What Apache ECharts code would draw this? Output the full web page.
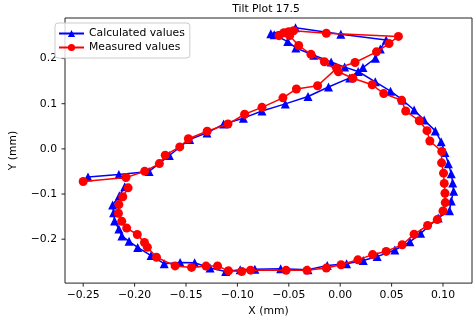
<!DOCTYPE html>
<html>
<head>
<meta charset="utf-8">
<script src="https://cdn.jsdelivr.net/npm/echarts@6/dist/echarts.min.js"></script>
<style>html,body{margin:0;padding:0;background:#fff}#c{width:474px;height:322px}</style>
</head>
<body>
<div id="c"></div>
<script>
const calcX = [-0.2096,-0.2148,-0.2214,-0.2204,-0.2195,-0.2153,-0.2124,-0.2054,-0.1970,-0.1840,-0.1712,-0.1557,-0.1416,-0.1266,-0.1114,-0.0973,-0.0830,-0.0579,-0.0313,-0.0126,0.0062,0.0224,0.0359,0.0531,0.0678,0.0782,0.0953,0.1063,0.1080,0.1103,0.1094,0.1080,0.1052,0.1019,0.0982,0.0925,0.0817,0.0719,0.0606,0.0489,0.0341,0.0175,0.0043,-0.0088,-0.0257,-0.0431,-0.0510,-0.0642,-0.0675,-0.0435,0.0006,0.0447,0.0390,0.0343,0.0221,0.0093,-0.0114,-0.0313,-0.0534,-0.0761,-0.0942,-0.1134,-0.1296,-0.1465,-0.1662,-0.1859,-0.2153,-0.2453];
const calcY = [-0.0841,-0.1037,-0.1243,-0.1417,-0.1596,-0.1776,-0.1928,-0.2048,-0.2183,-0.2363,-0.2543,-0.2515,-0.2522,-0.2639,-0.2717,-0.2674,-0.2667,-0.2652,-0.2674,-0.2580,-0.2543,-0.2472,-0.2385,-0.2239,-0.2059,-0.1870,-0.1530,-0.1370,-0.1152,-0.0939,-0.0754,-0.0548,-0.0330,-0.0080,0.0159,0.0398,0.0637,0.0861,0.1083,0.1278,0.1485,0.1713,0.1811,0.1926,0.2072,0.2235,0.2376,0.2528,0.2550,0.2680,0.2539,0.2409,0.2213,0.2007,0.1800,0.1572,0.1370,0.1159,0.0996,0.0839,0.0680,0.0550,0.0354,0.0209,-0.0146,-0.0500,-0.0565,-0.0624];
const measX = [-0.2063,-0.2115,-0.2153,-0.2157,-0.2125,-0.2077,-0.1974,-0.1904,-0.1876,-0.1787,-0.1606,-0.1446,-0.1305,-0.1193,-0.1086,-0.0958,-0.0872,-0.0526,-0.0323,-0.0135,0.0008,0.0172,0.0315,0.0447,0.0603,0.0719,0.0850,0.0944,0.1000,0.1022,0.1019,0.1012,0.1005,0.0986,0.0988,0.0872,0.0844,0.0769,0.0637,0.0597,0.0423,0.0311,0.0123,-0.0018,-0.0154,-0.0285,-0.0404,-0.0492,-0.0595,-0.0548,-0.0501,-0.0454,-0.0135,0.0566,0.0475,0.0353,0.0144,-0.0035,-0.0220,-0.0426,-0.0557,-0.0761,-0.0930,-0.1092,-0.1294,-0.1477,-0.1561,-0.1702,-0.1759,-0.1902,-0.2084,-0.2500];
const measY = [-0.0863,-0.1059,-0.1233,-0.1428,-0.1602,-0.1754,-0.1896,-0.2074,-0.2178,-0.2400,-0.2591,-0.2624,-0.2596,-0.2591,-0.2700,-0.2715,-0.2685,-0.2689,-0.2689,-0.2639,-0.2565,-0.2457,-0.2341,-0.2270,-0.2124,-0.1891,-0.1696,-0.1565,-0.1374,-0.1189,-0.0983,-0.0765,-0.0537,-0.0309,-0.0059,0.0174,0.0404,0.0622,0.0839,0.1078,0.1224,0.1420,0.1565,0.1709,0.1930,0.2093,0.2289,0.2507,0.2507,0.2572,0.2593,0.2615,0.2561,0.2491,0.2333,0.2148,0.1913,0.1783,0.1398,0.1326,0.1130,0.0920,0.0767,0.0550,0.0391,0.0224,0.0043,-0.0139,-0.0326,-0.0498,-0.0635,-0.0722];
const xTicks = [-0.25,-0.20,-0.15,-0.10,-0.05,0.00,0.05,0.10];
const yTicks = [-0.2,-0.1,0.0,0.1,0.2];
const seriesNames = ['Calculated values','Measured values'];
const titleText = 'Tilt Plot 17.5';
const xName = 'X (mm)';
const yName = 'Y (mm)';

const X_MIN = -0.2677, X_MAX = 0.1282, Y_MIN = -0.2972, Y_MAX = 0.2898;
const zip = (a,b) => a.map((v,i)=>[v,b[i]]);
const fmt = d => v => (v < -1e-9 ? '\u2212' : '') + Math.abs(v).toFixed(d);
const FONT = 'DejaVu Sans';
const FS = 10.8;
const TICK = 3.5;
const chart = echarts.init(document.getElementById('c'), null, {renderer:'canvas'});
chart.setOption({
  animation: false,
  backgroundColor: '#fff',
  textStyle: {fontFamily: FONT},
  title: {text: titleText, top: -1, left: 261, textAlign: 'center',
    textStyle: {fontSize: FS, fontWeight: 'normal', color: '#000', fontFamily: FONT}},
  grid: {left: 50, right: 2, top: 18, bottom: 34, show: true, borderColor: '#222', borderWidth: 1, backgroundColor: 'transparent'},
  legend: {
    left: 55, top: 23, orient: 'vertical', itemWidth: 25, itemHeight: 9, itemGap: 3,
    padding: [5,5,5,3], borderColor: '#cccccc', borderWidth: 1, borderRadius: 3, backgroundColor: 'rgba(255,255,255,0.8)',
    textStyle: {fontSize: FS, color: '#000', fontFamily: FONT},
    data: seriesNames
  },
  xAxis: {
    type: 'value', min: X_MIN, max: X_MAX,
    name: xName, nameLocation: 'middle', nameGap: 21,
    nameTextStyle: {fontSize: FS, color: '#000', fontFamily: FONT},
    axisLine: {show: false},
    axisTick: {show: false},
    axisLabel: {show: true, margin: 7, fontSize: FS, color: '#000', fontFamily: FONT, customValues: xTicks, formatter: fmt(2)},
    splitLine: {show: false}
  },
  yAxis: {
    type: 'value', min: Y_MIN, max: Y_MAX,
    name: yName, nameLocation: 'middle', nameGap: 46, nameRotate: 90,
    nameTextStyle: {fontSize: FS, color: '#000', fontFamily: FONT},
    axisLine: {show: false},
    axisTick: {show: false},
    axisLabel: {show: true, margin: 8, fontSize: FS, color: '#000', fontFamily: FONT, customValues: yTicks, formatter: fmt(1)},
    splitLine: {show: false}
  },
  series: [
    {name: seriesNames[0], type: 'line', data: zip(calcX, calcY), symbol: 'triangle', symbolSize: 9,
      showAllSymbol: true, color: '#0000ff', lineStyle: {width: 1.5, color: '#0000ff'}, itemStyle: {color: '#0000ff'}, z: 2},
    {name: seriesNames[1], type: 'line', data: zip(measX, measY), symbol: 'circle', symbolSize: 9,
      showAllSymbol: true, color: '#ff0000', lineStyle: {width: 1.5, color: '#ff0000'}, itemStyle: {color: '#ff0000'}, z: 3}
  ]
});
// tick marks placed through the library's own coordinate conversion
const ticks = [];
xTicks.forEach(v => {
  const p = chart.convertToPixel({gridIndex: 0}, [v, Y_MIN]);
  ticks.push({type: 'line', silent: true, shape: {x1: p[0], y1: p[1], x2: p[0], y2: p[1] + TICK}, style: {stroke: '#222', lineWidth: 1}});
});
yTicks.forEach(v => {
  const p = chart.convertToPixel({gridIndex: 0}, [X_MIN, v]);
  ticks.push({type: 'line', silent: true, shape: {x1: p[0] - TICK, y1: p[1], x2: p[0], y2: p[1]}, style: {stroke: '#222', lineWidth: 1}});
});
chart.setOption({graphic: ticks});
</script>
</body>
</html>
